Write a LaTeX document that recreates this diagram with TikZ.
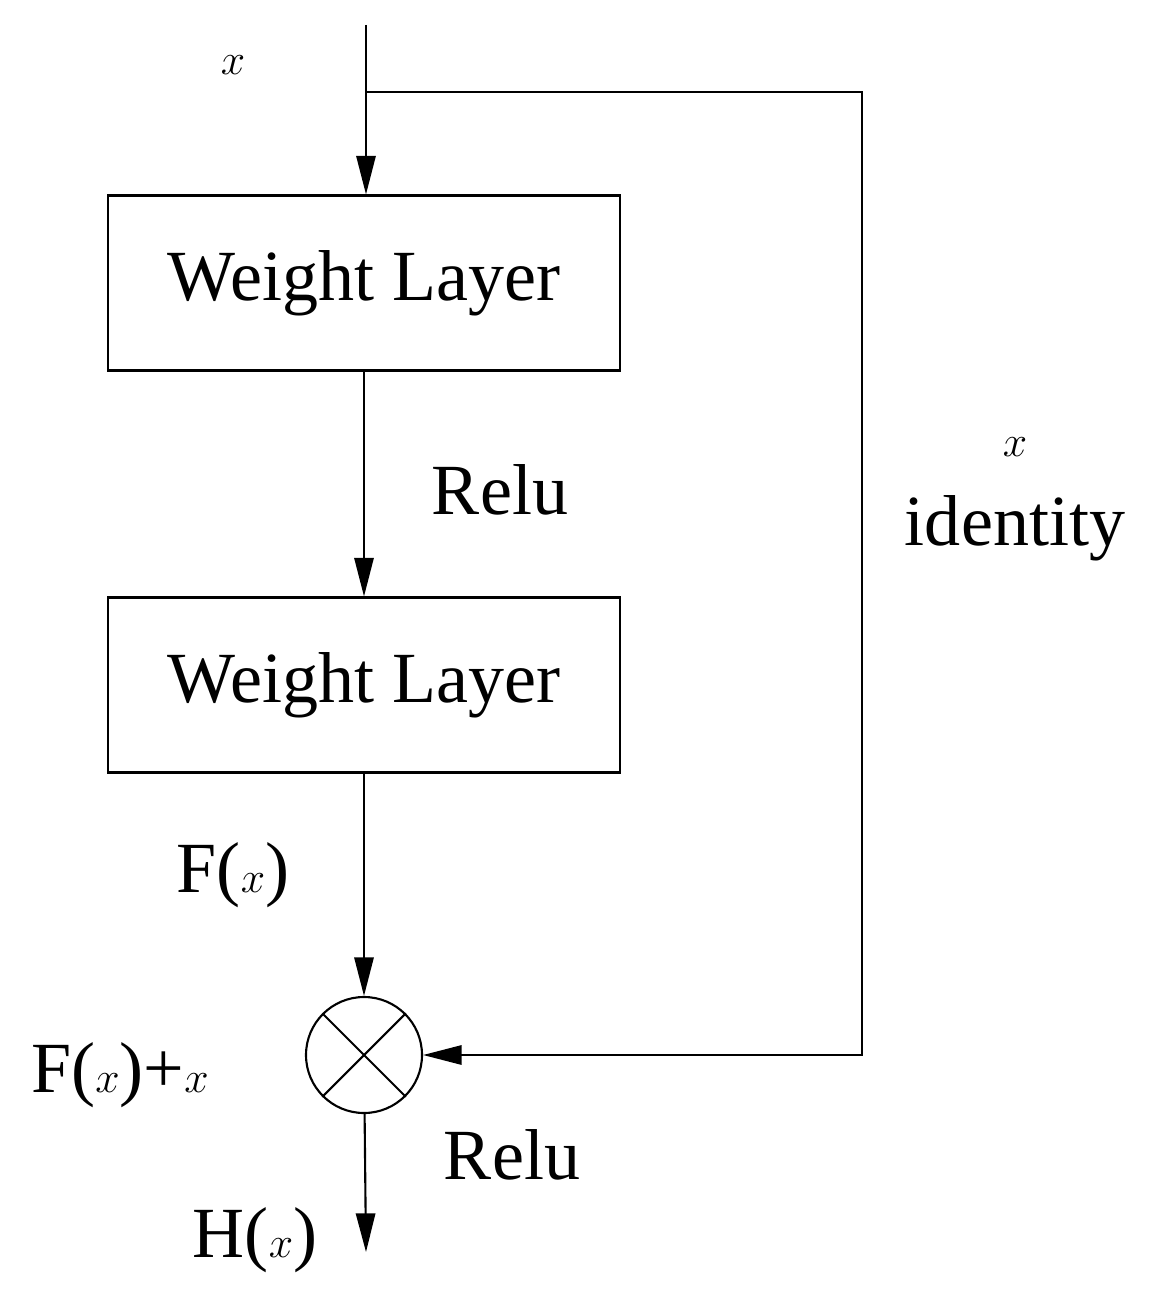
\documentclass[tikz,border=0pt]{standalone}
\usepackage{fontspec}
\setmainfont{Liberation Serif}
\usetikzlibrary{arrows.meta}
\begin{document}
\begin{tikzpicture}[x=0.02cm,y=-0.02cm,
    >={Triangle[length=22pt,width=11pt]},
    layer/.style={draw, line width=1.2pt, minimum width=512*0.02cm, minimum height=175*0.02cm, font=\fontsize{41}{48}\selectfont},
    lbl/.style={font=\fontsize{41}{48}\selectfont, inner sep=0pt},
    line width=1.2pt]
    \useasboundingbox (0,0) rectangle (1157,1291);
    \coordinate (in) at (366,25);
    \coordinate (split) at (366,92);
    \coordinate (tr) at (862,92);
    \coordinate (br) at (862,1055);
    \coordinate (out) at (366,1252);
    \node[layer] (w1) at (364,283) {Weight Layer};
    \node[layer] (w2) at (364,685) {Weight Layer};
    \node[draw, circle, minimum size=116*0.02cm, inner sep=0pt] (sum) at (364,1055) {};
    \draw (sum.north west) -- (sum.south east);
    \draw (sum.north east) -- (sum.south west);
    % main path
    \draw[->] (in) -- (w1.north -| in);
    \draw[->] (w1) -- (w2);
    \draw[->] (w2) -- (sum);
    \draw[->] (sum) -- (out);
    % shortcut
    \draw[->] (split) -- (tr) -- (br) -- (sum.east);
    % labels
    \node[lbl] at (233,65) {$x$};
    \node[lbl] at (500,490) {Relu};
    \node[lbl] at (233,875) {F($x$)};
    \node[lbl] at (120,1075) {F($x$)+$x$};
    \node[lbl] at (512,1155) {Relu};
    \node[lbl] at (255,1240) {H($x$)};
    \node[lbl] at (1015,447) {$x$};
    \node[lbl] at (1015,528) {identity};
\end{tikzpicture}
\end{document}
